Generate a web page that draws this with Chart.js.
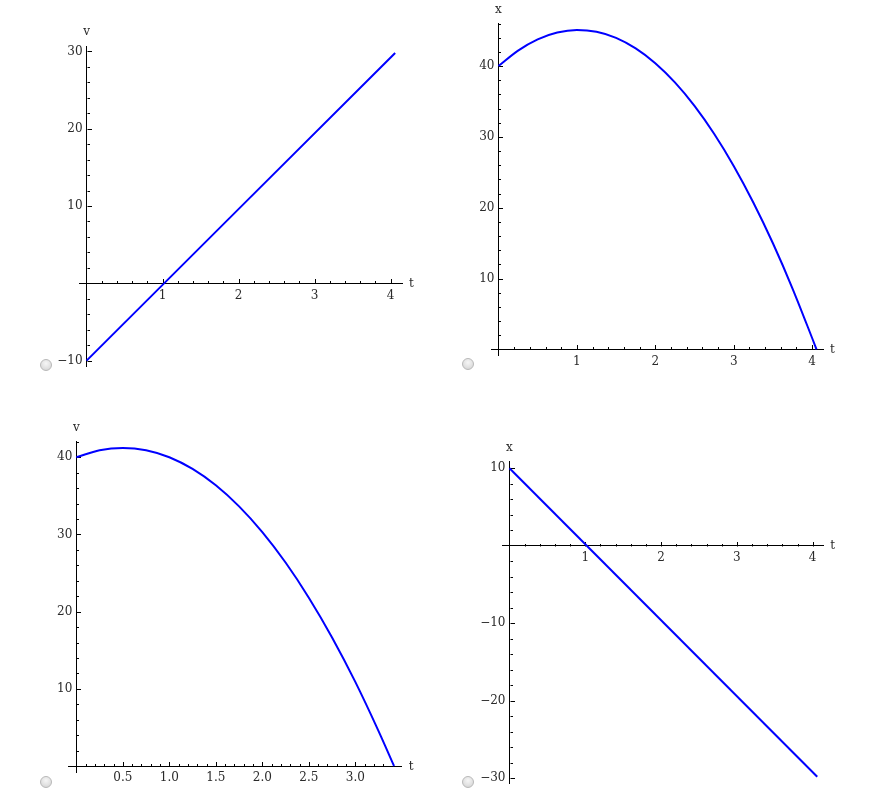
<!DOCTYPE html>
<html><head><meta charset="utf-8">
<script src="https://cdn.jsdelivr.net/npm/chart.js@4"></script>
<style>
html,body{margin:0;padding:0;background:#fff;width:887px;height:801px;overflow:hidden}
canvas{position:absolute}
.radio{position:absolute;width:12px;height:12px;border-radius:50%;border:1px solid #b8b8b8;box-sizing:border-box;background:radial-gradient(circle at 50% 35%,#f6f6f6 0%,#e2e2e2 55%,#cfcfcf 100%)}
</style></head><body>
<canvas id="k1" width="443" height="400" style="left:0;top:0"></canvas>
<canvas id="k2" width="444" height="400" style="left:443px;top:0"></canvas>
<canvas id="k3" width="443" height="401" style="left:0;top:400px"></canvas>
<canvas id="k4" width="444" height="401" style="left:443px;top:400px"></canvas>
<div class="radio" style="left:40px;top:359px"></div>
<div class="radio" style="left:462px;top:358px"></div>
<div class="radio" style="left:40px;top:776px"></div>
<div class="radio" style="left:462px;top:776px"></div>
<script>
// ---- data ----
const t1 = [0, 4.06];
const v1 = [-10, 29.8];

const t2 = [0, 0.25, 0.5, 0.75, 1.0, 1.25, 1.5, 1.75, 2.0, 2.25, 2.5, 2.75, 3.0, 3.25, 3.5, 3.75, 4.0, 4.056];
const x2 = [40, 42.19, 43.78, 44.74, 45.1, 44.84, 43.98, 42.49, 40.4, 37.69, 34.38, 30.44, 25.9, 20.74, 14.98, 8.59, 1.6, 0];

const t3 = [0, 0.25, 0.5, 0.75, 1.0, 1.25, 1.5, 1.75, 2.0, 2.25, 2.5, 2.75, 3.0, 3.25, 3.417];
const v3 = [40, 40.91, 41.21, 40.91, 40, 38.48, 36.36, 33.63, 30.3, 26.36, 21.81, 16.66, 10.9, 4.53, 0];

const t4 = [0, 4.06];
const x4 = [10, -29.8];

// ---- tick labels ----
const xTicks1 = [1, 2, 3, 4];
const yTicks1 = [-10, 10, 20, 30];
const xTicks2 = [1, 2, 3, 4];
const yTicks2 = [10, 20, 30, 40];
const xTicks3 = [0.5, 1.0, 1.5, 2.0, 2.5, 3.0];
const yTicks3 = [10, 20, 30, 40];
const xTicks4 = [1, 2, 3, 4];
const yTicks4 = [-30, -20, -10, 10];

const FONT = {family: 'DejaVu Serif', size: 12};
const TXT = '#2a2a2a';

function fmtInt(v){ return (v < 0 ? '\u2212' : '') + Math.abs(v); }
function fmt1(v){ return v.toFixed(1); }

const mmaPlugin = {
  id: 'mma',
  beforeDraw(chart) {
    // keep y tick labels a few pixels left of the crossing axis
    const items = chart.scales.y.getLabelItems();
    items.forEach(it => { if (!it._shifted) { it.options.translation[0] -= 4; it._shifted = true; } });
  },
  beforeDatasetsDraw(chart) {
    const o = chart.options.plugins.mma;
    const xs = chart.scales.x, ys = chart.scales.y;
    const ctx = chart.ctx;
    const x0 = Math.round(xs.getPixelForValue(0)) + 0.5;
    const y0 = Math.round(ys.getPixelForValue(0)) + 0.5;
    ctx.save();
    ctx.strokeStyle = '#000';
    ctx.lineWidth = 1;
    ctx.beginPath();
    const eps = 1e-6;
    for (let k = 1; k * o.xMinor <= xs.max + eps; k++) {
      const v = +(k * o.xMinor).toFixed(6);
      if (v > o.xTickMax + eps) break;
      const major = o.xMajor.some(m => Math.abs(m - v) < eps);
      const len = major ? 4.5 : 2.5;
      const px = Math.round(xs.getPixelForValue(v)) + 0.5;
      ctx.moveTo(px, y0);
      ctx.lineTo(px, y0 - len);
    }
    const kStart = Math.ceil((ys.min - eps) / o.yMinor);
    const kEnd = Math.floor((ys.max + eps) / o.yMinor);
    for (let k = kStart; k <= kEnd; k++) {
      if (k === 0) continue;
      const v = k * o.yMinor;
      const major = o.yMajor.some(m => Math.abs(m - v) < eps);
      const len = major ? 4.5 : 2.5;
      const py = Math.round(ys.getPixelForValue(v)) + 0.5;
      ctx.moveTo(x0, py);
      ctx.lineTo(x0 + len, py);
    }
    ctx.stroke();
    ctx.fillStyle = TXT;
    ctx.font = '12px "DejaVu Serif"';
    ctx.textAlign = 'center';
    ctx.textBaseline = 'middle';
    ctx.fillText(o.yName, xs.getPixelForValue(0), chart.chartArea.top - 14);
    ctx.textAlign = 'left';
    ctx.fillText(o.xName, chart.chartArea.right + 7, ys.getPixelForValue(0) + 0.5);
    ctx.restore();
  }
};

function makeChart(id, tArr, yArr, cfg) {
  const data = tArr.map((t, i) => ({x: t, y: yArr[i]}));
  return new Chart(document.getElementById(id), {
    type: 'line',
    data: {datasets: [{
      data: data,
      borderColor: '#0000ff',
      borderWidth: 2,
      pointRadius: 0,
      fill: false,
      cubicInterpolationMode: 'monotone'
    }]},
    options: {
      responsive: false,
      animation: false,
      devicePixelRatio: 1,
      layout: {padding: cfg.pad},
      plugins: {
        legend: {display: false},
        tooltip: {enabled: false},
        mma: {xMinor: cfg.xMinor, yMinor: cfg.yMinor, xMajor: cfg.xTicks, yMajor: cfg.yTicks,
              xTickMax: cfg.xTickMax, xName: cfg.xName, yName: cfg.yName}
      },
      scales: {
        x: {
          type: 'linear',
          min: cfg.xmin, max: cfg.xmax,
          position: {y: 0},
          grid: {display: false, drawTicks: false},
          border: {display: true, color: '#000', width: 1},
          afterBuildTicks: s => { s.ticks = cfg.xTicks.map(v => ({value: v})); },
          ticks: {font: FONT, color: TXT, padding: 5, maxRotation: 0, autoSkip: false, callback: cfg.xFmt}
        },
        y: {
          type: 'linear',
          min: cfg.ymin, max: cfg.ymax,
          position: {x: 0},
          grid: {display: false, drawTicks: false},
          border: {display: true, color: '#000', width: 1},
          afterBuildTicks: s => { s.ticks = cfg.yTicks.map(v => ({value: v})); },
          ticks: {font: FONT, color: TXT, padding: 4, autoSkip: false, callback: fmtInt}
        }
      }
    },
    plugins: [mmaPlugin]
  });
}

makeChart('k1', t1, v1, {
  xmin: -0.1, xmax: 4.15, ymin: -10.8, ymax: 30.7,
  pad: {left: 79, right: 41, top: 46, bottom: 33.2},
  xTicks: xTicks1, yTicks: yTicks1, xMinor: 0.2, yMinor: 2, xTickMax: 4.0,
  xFmt: fmtInt, xName: 't', yName: 'v'
});
makeChart('k2', t2, x2, {
  xmin: -0.09, xmax: 4.14, ymin: -0.8, ymax: 46,
  pad: {left: 48.4, right: 63.9, top: 23.6, bottom: 45},
  xTicks: xTicks2, yTicks: yTicks2, xMinor: 0.2, yMinor: 2, xTickMax: 4.0,
  xFmt: fmtInt, xName: 't', yName: 'x'
});
makeChart('k3', t3, v3, {
  xmin: -0.08, xmax: 3.5, ymin: -0.8, ymax: 42,
  pad: {left: 68.9, right: 41.2, top: 41.8, bottom: 28.8},
  xTicks: xTicks3, yTicks: yTicks3, xMinor: 0.1, yMinor: 2, xTickMax: 3.4,
  xFmt: fmt1, xName: 't', yName: 'v'
});
makeChart('k4', t4, x4, {
  xmin: -0.095, xmax: 4.14, ymin: -30.6, ymax: 10.85,
  pad: {left: 59.3, right: 63.7, top: 61.7, bottom: 18},
  xTicks: xTicks4, yTicks: yTicks4, xMinor: 0.2, yMinor: 2, xTickMax: 4.0,
  xFmt: fmtInt, xName: 't', yName: 'x'
});
</script>
</body></html>
